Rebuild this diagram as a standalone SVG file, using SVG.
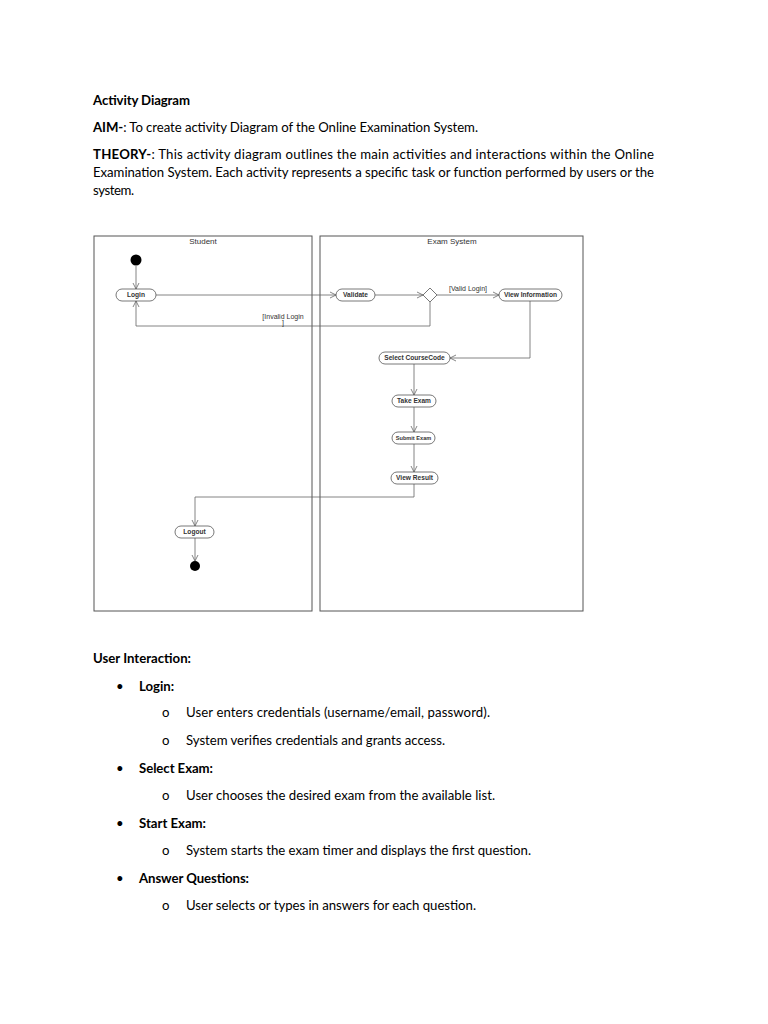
<svg xmlns="http://www.w3.org/2000/svg" width="768" height="1024" viewBox="0 0 768 1024">
<defs>
<style>
.t{font-family:Lato,"Open Sans","Liberation Sans",sans-serif;font-size:13.2px;fill:#000}
.b{font-weight:bold}
.lane{fill:none;stroke:#555;stroke-width:1}
.lt{font-family:"Liberation Sans",Arial,sans-serif;font-size:8px;fill:#333;text-anchor:middle}
.nt{font-family:"Liberation Sans",Arial,sans-serif;font-size:6.6px;font-weight:bold;fill:#333;text-anchor:middle}
.gt{font-family:"Liberation Sans",Arial,sans-serif;font-size:7px;fill:#333;text-anchor:middle}
.node{fill:#fff;stroke:#555;stroke-width:0.8}
.edge{fill:none;stroke:#666;stroke-width:0.8;marker-end:url(#arr)}
</style>
<marker id="arr" markerWidth="8" markerHeight="8" refX="7" refY="4" orient="auto" markerUnits="userSpaceOnUse">
<path d="M1,1 L7,4 L1,7" fill="none" stroke="#666" stroke-width="0.8"/>
</marker>
</defs>
<rect width="768" height="1024" fill="#fff"/>

<text class="t b" x="93" y="105" textLength="97">Activity Diagram</text>
<text class="t" x="93" y="132" textLength="385"><tspan class="b">AIM-</tspan>: To create activity Diagram of the Online Examination System.</text>
<text class="t" x="93" y="159" textLength="561"><tspan class="b">THEORY-</tspan>: This activity diagram outlines the main activities and interactions within the Online</text>
<text class="t" x="93" y="177" textLength="561">Examination System. Each activity represents a specific task or function performed by users or the</text>
<text class="t" x="93" y="195" textLength="41">system.</text>

<g id="lane-student">
<rect class="lane" x="94" y="236" width="218" height="375"/>
<text class="lt" x="203" y="244">Student</text>
</g>
<g id="lane-exam">
<rect class="lane" x="320" y="236" width="263" height="375"/>
<text class="lt" x="452" y="244">Exam System</text>
</g>

<g id="connectors">
<path class="edge" d="M136,266 L136,289"/>
<path class="edge" d="M156,295 L336,295"/>
<path class="edge" d="M375,295 L423,295"/>
<path class="edge" d="M437,295 L499,295"/>
<path class="edge" d="M430,302 L430,326 L136,326 L136,301"/>
<path class="edge" d="M530,301 L530,358 L450,358"/>
<path class="edge" d="M414,364 L414,395"/>
<path class="edge" d="M414,407 L414,432"/>
<path class="edge" d="M414,444 L414,472"/>
<path class="edge" d="M414,484 L414,497 L195,497 L195,526"/>
<path class="edge" d="M195,538 L195,561"/>
<text class="gt" x="468" y="291">[Valid Login]</text>
<text class="gt" x="283" y="319">[Invalid Login</text>
<text class="gt" x="283" y="325">]</text>
</g>

<g id="start"><circle cx="136" cy="260" r="5.5" fill="#000"/></g>
<g id="login"><rect class="node" x="116" y="289" width="40" height="12" rx="6"/><text class="nt" x="136" y="297.3">Login</text></g>
<g id="validate"><rect class="node" x="336" y="289" width="39" height="12" rx="6"/><text class="nt" x="355.5" y="297.3">Validate</text></g>
<g id="decision"><path class="node" d="M423,295 L430,288 L437,295 L430,302 Z"/></g>
<g id="view-info"><rect class="node" x="499" y="289" width="63" height="12" rx="6"/><text class="nt" x="530.5" y="297.3">View Information</text></g>
<g id="select-course"><rect class="node" x="379" y="352" width="71" height="12" rx="6"/><text class="nt" x="414.5" y="360.3">Select CourseCode</text></g>
<g id="take-exam"><rect class="node" x="392" y="395" width="44" height="12" rx="6"/><text class="nt" x="414" y="403.3">Take Exam</text></g>
<g id="submit-exam"><rect class="node" x="392" y="432" width="43" height="12" rx="6"/><text class="nt" x="413.5" y="440" style="font-size:5.6px">Submit Exam</text></g>
<g id="view-result"><rect class="node" x="391" y="472" width="47" height="12" rx="6"/><text class="nt" x="414.5" y="480.3">View Result</text></g>
<g id="logout"><rect class="node" x="175" y="526" width="39" height="12" rx="6"/><text class="nt" x="194.5" y="534.3">Logout</text></g>
<g id="end"><circle cx="195" cy="566" r="5" fill="#000"/></g>

<text class="t b" x="93" y="663" textLength="98">User Interaction:</text>
<text class="t" x="116" y="691">•</text><text class="t b" x="139" y="691">Login:</text>
<text class="t" x="162" y="717">o</text><text class="t" x="186" y="717" textLength="304">User enters credentials (username/email, password).</text>
<text class="t" x="162" y="745">o</text><text class="t" x="186" y="745" textLength="259">System verifies credentials and grants access.</text>
<text class="t" x="116" y="773">•</text><text class="t b" x="139" y="773" textLength="74">Select Exam:</text>
<text class="t" x="162" y="800">o</text><text class="t" x="186" y="800" textLength="309">User chooses the desired exam from the available list.</text>
<text class="t" x="116" y="828">•</text><text class="t b" x="139" y="828" textLength="67">Start Exam:</text>
<text class="t" x="162" y="855">o</text><text class="t" x="186" y="855" textLength="345">System starts the exam timer and displays the first question.</text>
<text class="t" x="116" y="883">•</text><text class="t b" x="139" y="883" textLength="110">Answer Questions:</text>
<text class="t" x="162" y="910">o</text><text class="t" x="186" y="910" textLength="290">User selects or types in answers for each question.</text>
</svg>
